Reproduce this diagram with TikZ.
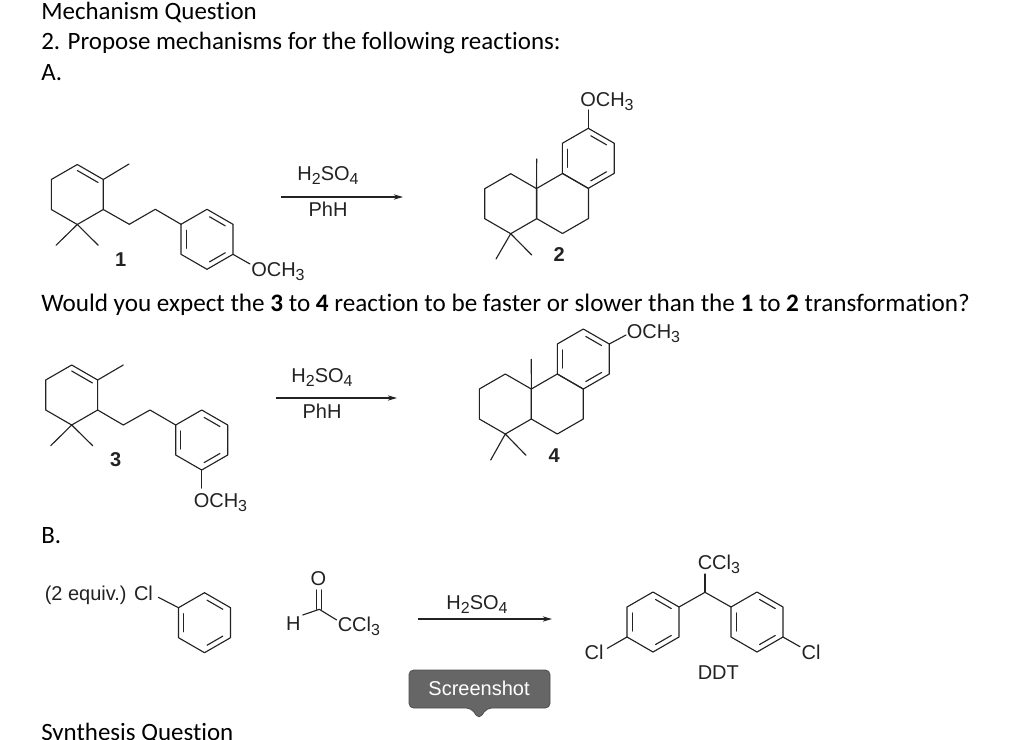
\documentclass[tikz,border=0pt]{standalone}
\usepackage{fontspec}
\setmainfont{Carlito}[Ligatures=NoCommon]
\newfontfamily\chemfont{Liberation Sans}
\usetikzlibrary{calc,arrows.meta}
\definecolor{inkgray}{HTML}{222222}
\definecolor{tipgray}{HTML}{666666}
\tikzset{
  bond/.style={inkgray,line width=.85pt,line cap=round,line join=round},
  chem/.style={font=\chemfont\fontsize{15}{17}\selectfont,text=inkgray,inner sep=0pt,anchor=base},
  num/.style={font=\chemfont\bfseries\fontsize{15}{17}\selectfont,text=inkgray,inner sep=0pt,anchor=base},
  page/.style={font=\fontsize{18.7}{21}\selectfont,text=black,inner sep=0pt,anchor=base west},
  yield/.style={inkgray,line width=.85pt,-{Stealth[length=7pt,width=4pt]}}
}
% six corners of a ring, clockwise from its top one
\newcommand{\hexring}[3]{
  \coordinate (#1) at (#2,#3);
  \foreach \i in {1,...,6}
    \coordinate (#1\i) at ($(#1)+(-150+60*\i:30)$);
  \draw[bond] (#11) -- (#12) -- (#13) -- (#14) -- (#15) -- (#16) -- cycle;
}
% aromatic ring, inner lines on three sides
\newcommand{\benzring}[3]{
  \hexring{#1}{#2}{#3}
  \foreach \a/\b in {1/2,3/4,5/6}
    \draw[bond] ($(#1\a)!.2!(#1)!.12!($(#1\b)!.2!(#1)$)$) -- ($(#1\b)!.2!(#1)!.12!($(#1\a)!.2!(#1)$)$);
}
\newcommand{\lowered}[1]{\raisebox{-.2em}{\fontsize{12}{13}\selectfont #1}}
\newcommand{\och}{OCH\lowered{3}}
\newcommand{\ccl}{CCl\lowered{3}}
\newcommand{\acid}{H\lowered{2}SO\lowered{4}}
\begin{document}
\begin{tikzpicture}[x=.75pt,y=-.75pt]
  \useasboundingbox (0,0) rectangle (1024,739);
  \clip (0,0) rectangle (1024,739);

  \node[page] (title) at (41,19.5) {Mechanism Question};
  \node[page] (task) at (41,49.5) {2. Propose mechanisms for the following reactions:};
  \node[page] (partA) at (41,80) {A.};
  \node[page,font=\fontsize{18.87}{21}\selectfont] (ask) at (41,311) {Would you expect the \textbf{3} to \textbf{4} reaction to be faster or slower than the \textbf{1} to \textbf{2} transformation?};
  \node[page] (partB) at (41,543) {B.};
  \node[page] (synth) at (41,740) {Synthesis Question};

  % compound 1
  \hexring{oneA}{77.3}{194.5}
  \benzring{oneB}{207}{239.3}
  \draw[bond] ($(oneA1)!.2!(oneA)$) -- ($(oneA2)!.2!(oneA)$);
  \coordinate (oneMe) at (129,164);
  \coordinate (oneGemL) at (56,245.3);
  \coordinate (oneGemR) at (98.3,245.3);
  \coordinate (oneCa) at (129.3,224.3);
  \coordinate (oneCb) at (155.3,209.3);
  \coordinate (oneOb) at (250,264);
  \draw[bond] (oneA2) -- (oneMe);
  \draw[bond] (oneGemL) -- (oneA4) -- (oneGemR);
  \draw[bond] (oneA3) -- (oneCa) -- (oneCb) -- (oneB6);
  \draw[bond] (oneB3) -- (oneOb);
  \node[chem,anchor=base west] (oneO) at (251,276) {\och};
  \node[num] (oneNum) at (120.7,266) {1};

  % first arrow
  \coordinate (arrAs) at (281,197);
  \coordinate (arrAe) at (403,197);
  \draw[yield] (arrAs) -- (arrAe);
  \node[chem] (acidA) at (328,180.5) {\acid};
  \node[chem] (solvA) at (328,216.5) {PhH};

  % compound 2
  \benzring{twoC}{588.3}{158.3}
  \hexring{twoB}{562.5}{203.5}
  \hexring{twoA}{510.7}{203.7}
  \coordinate (twoMe) at (536.7,159);
  \coordinate (twoGemL) at (496,259);
  \coordinate (twoGemR) at (531.7,255);
  \coordinate (twoOb) at (588.3,110);
  \draw[bond] (twoB6) -- (twoMe);
  \draw[bond] (twoGemL) -- (twoA4) -- (twoGemR);
  \draw[bond] (twoC1) -- (twoOb);
  \node[chem,anchor=base west] (twoO) at (580,106.7) {\och};
  \node[num] (twoNum) at (559.3,261.7) {2};

  % compound 3
  \hexring{threeA}{71.7}{395}
  \benzring{threeB}{201.7}{440}
  \draw[bond] ($(threeA1)!.2!(threeA)$) -- ($(threeA2)!.2!(threeA)$);
  \coordinate (threeMe) at (123.3,365);
  \coordinate (threeGemL) at (50.7,445.7);
  \coordinate (threeGemR) at (92.7,445.7);
  \coordinate (threeCa) at (123.3,425);
  \coordinate (threeCb) at (150,410);
  \coordinate (threeOb) at (201.7,488);
  \draw[bond] (threeA2) -- (threeMe);
  \draw[bond] (threeGemL) -- (threeA4) -- (threeGemR);
  \draw[bond] (threeA3) -- (threeCa) -- (threeCb) -- (threeB6);
  \draw[bond] (threeB4) -- (threeOb);
  \node[chem,anchor=base west] (threeO) at (193.5,507.5) {\och};
  \node[num] (threeNum) at (115.7,466.7) {3};

  % second arrow
  \coordinate (arrBs) at (276,398);
  \coordinate (arrBe) at (397,398);
  \draw[yield] (arrBs) -- (arrBe);
  \node[chem] (acidB) at (322,382) {\acid};
  \node[chem] (solvB) at (322,418) {PhH};

  % compound 4
  \benzring{fourC}{583.3}{359}
  \hexring{fourB}{557.3}{404}
  \hexring{fourA}{505.3}{404}
  \coordinate (fourMe) at (531.3,359.3);
  \coordinate (fourGemL) at (490.7,460);
  \coordinate (fourGemR) at (526,455.3);
  \coordinate (fourOb) at (626,335);
  \draw[bond] (fourB6) -- (fourMe);
  \draw[bond] (fourGemL) -- (fourA4) -- (fourGemR);
  \draw[bond] (fourC2) -- (fourOb);
  \node[chem,anchor=base west] (fourO) at (626.5,338) {\och};
  \node[num] (fourNum) at (554.3,462.7) {4};

  % part B
  \node[chem,anchor=base west] (clph) at (44.5,600) {(2 equiv.) Cl};
  \benzring{clB}{204.5}{622.7}
  \coordinate (clOb) at (158.3,597.3);
  \draw[bond] (clOb) -- (clB6);

  \coordinate (cho) at (319.3,609.3);
  \coordinate (choO) at (319.3,590);
  \coordinate (choH) at (302.7,615);
  \coordinate (choC) at (336.7,620);
  \draw[bond] ([xshift=-1.9pt]cho) -- ([xshift=-1.9pt]choO);
  \draw[bond] ([xshift=1.9pt]cho) -- ([xshift=1.9pt]choO);
  \draw[bond] (choH) -- (cho) -- (choC);
  \node[chem] (choOx) at (318.3,585) {O};
  \node[chem] (choHy) at (293.3,630) {H};
  \node[chem,anchor=base west] (choCl) at (337.5,631) {\ccl};

  % third arrow
  \coordinate (arrCs) at (418,619);
  \coordinate (arrCe) at (552,619);
  \draw[yield] (arrCs) -- (arrCe);
  \node[chem] (acidC) at (477,609.3) {\acid};

  % DDT
  \benzring{ddtL}{653}{622}
  \benzring{ddtR}{757}{622}
  \coordinate (ddtH) at (705,592.3);
  \coordinate (ddtUp) at (705,574);
  \coordinate (ddtClL) at (607.3,648.3);
  \coordinate (ddtClR) at (800,646.7);
  \draw[bond] (ddtL2) -- (ddtH) -- (ddtR6);
  \draw[bond] (ddtH) -- (ddtUp);
  \draw[bond] (ddtL5) -- (ddtClL);
  \draw[bond] (ddtR3) -- (ddtClR);
  \node[chem,anchor=base west] (ddtC) at (697.5,569.3) {\ccl};
  \node[chem] (ddtCa) at (594,659.3) {Cl};
  \node[chem] (ddtCb) at (811,659.3) {Cl};
  \node[chem] (ddtName) at (718.3,679.3) {DDT};

  % tooltip
  \draw[fill=tipgray,draw=inkgray!80,line width=.6pt,rounded corners=3.5pt]
    (409,670) -- (550,670) -- (550,708) -- (487,708) -- (479,719) -- (471,708) -- (409,708) -- cycle;
  \node[chem,text=white] (shot) at (479,695) {Screenshot};
\end{tikzpicture}
\end{document}
